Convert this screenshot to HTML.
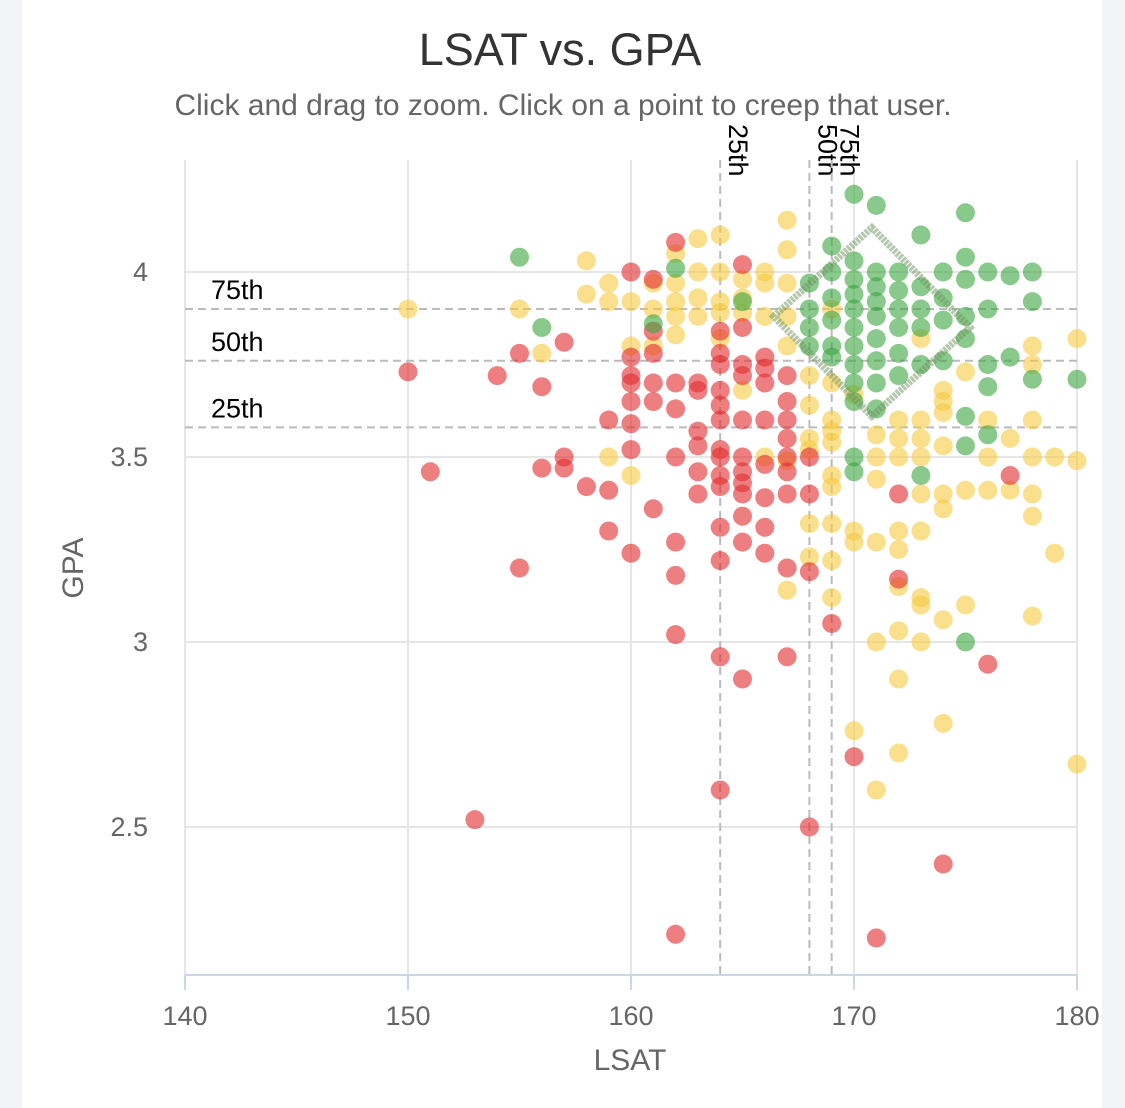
<!DOCTYPE html>
<html><head><meta charset="utf-8"><style>
html,body{margin:0;padding:0;background:#f2f3f7;}
#card{position:absolute;left:22px;top:0;width:1080px;height:1108px;background:#fff;}
svg{position:absolute;left:0;top:0;font-family:"Liberation Sans",sans-serif;}
</style></head><body>
<div id="card"></div>
<svg id="chart" width="1125" height="1108"></svg>
<script>
const xTicks=[140,150,160,170,180];
const yTicks=[2.5,3,3.5,4];
const pctLsat=[164,168,169];
const pctLsatLabels=["25th","50th","75th"];
const pctGpa=[3.58,3.76,3.9];
const pctGpaLabels=["25th","50th","75th"];
const redPts=[[150,3.73],[151,3.46],[153,2.52],[154,3.72],[155,3.78],[155,3.2],[156,3.47],[156,3.69],[157,3.81],[157,3.5],[157,3.47],[158,3.42],[159,3.41],[159,3.6],[159,3.3],[160,4.0],[160,3.77],[160,3.72],[160,3.7],[160,3.65],[160,3.59],[160,3.52],[160,3.24],[161,3.98],[161,3.84],[161,3.78],[161,3.7],[161,3.65],[161,3.36],[162,4.08],[162,3.7],[162,3.63],[162,3.5],[162,3.27],[162,3.18],[162,3.02],[162,2.21],[163,3.68],[163,3.57],[163,3.53],[163,3.46],[163,3.4],[164,3.84],[164,3.78],[164,3.75],[164,3.68],[164,3.64],[164,3.6],[164,3.52],[164,3.5],[164,3.45],[164,3.42],[164,3.31],[164,3.22],[164,2.96],[164,2.6],[165,4.02],[165,3.85],[165,3.75],[165,3.72],[165,3.6],[165,3.5],[165,3.46],[165,3.43],[165,3.4],[165,3.34],[165,3.27],[165,2.9],[166,3.77],[166,3.7],[166,3.6],[166,3.48],[166,3.39],[166,3.31],[166,3.24],[167,3.72],[167,3.65],[167,3.6],[167,3.55],[167,3.5],[167,3.46],[167,3.4],[167,3.2],[167,2.96],[168,3.5],[168,3.4],[168,3.19],[168,2.5],[169,3.05],[170,2.69],[171,2.2],[172,3.4],[172,3.17],[174,2.4],[176,2.94],[177,3.45],[163,3.7],[166,3.74]];
const yellowPts=[[150,3.9],[155,3.9],[156,3.78],[158,4.03],[158,3.94],[159,3.97],[159,3.92],[159,3.5],[160,3.92],[160,3.8],[160,3.45],[161,3.97],[161,3.9],[161,3.8],[162,4.05],[162,3.97],[162,3.92],[162,3.88],[162,3.83],[163,4.09],[163,4.0],[163,3.93],[163,3.88],[164,4.1],[164,4.0],[164,3.92],[164,3.89],[164,3.82],[165,3.98],[165,3.93],[165,3.89],[166,4.0],[166,3.97],[166,3.88],[167,4.14],[167,4.06],[167,3.97],[167,3.88],[167,3.8],[167,3.49],[167,3.14],[168,3.72],[168,3.64],[168,3.55],[168,3.52],[168,3.32],[168,3.23],[169,3.9],[169,3.7],[169,3.6],[169,3.57],[169,3.54],[169,3.45],[169,3.42],[169,3.32],[169,3.22],[169,3.12],[170,3.67],[170,3.3],[170,3.27],[170,2.76],[171,3.56],[171,3.5],[171,3.44],[171,3.27],[171,3.0],[171,2.6],[172,3.6],[172,3.55],[172,3.5],[172,3.3],[172,3.25],[172,3.15],[172,3.03],[172,2.9],[172,2.7],[173,3.6],[173,3.55],[173,3.5],[173,3.4],[173,3.3],[173,3.12],[173,3.1],[173,3.0],[173,3.82],[174,3.68],[174,3.65],[174,3.62],[174,3.53],[174,3.4],[174,3.36],[174,3.06],[174,2.78],[175,3.73],[175,3.41],[175,3.1],[176,3.6],[176,3.5],[176,3.41],[177,3.55],[177,3.41],[178,3.8],[178,3.75],[178,3.6],[178,3.5],[178,3.4],[178,3.34],[178,3.07],[179,3.5],[179,3.24],[180,3.82],[180,3.49],[180,2.67],[166,3.5],[165,3.68]];
const greenPts=[[155,4.04],[156,3.85],[161,3.86],[162,4.01],[165,3.92],[168,3.97],[168,3.9],[168,3.85],[168,3.8],[169,4.07],[169,4.0],[169,3.93],[169,3.87],[169,3.8],[169,3.77],[170,4.21],[170,4.03],[170,3.98],[170,3.94],[170,3.9],[170,3.85],[170,3.8],[170,3.75],[170,3.7],[170,3.65],[170,3.5],[170,3.46],[171,4.18],[171,4.0],[171,3.96],[171,3.92],[171,3.88],[171,3.82],[171,3.76],[171,3.7],[171,3.63],[172,4.0],[172,3.95],[172,3.9],[172,3.85],[172,3.78],[172,3.72],[173,4.1],[173,3.96],[173,3.9],[173,3.85],[173,3.75],[173,3.45],[174,4.0],[174,3.93],[174,3.87],[174,3.76],[175,4.16],[175,4.04],[175,3.98],[175,3.88],[175,3.82],[175,3.61],[175,3.53],[175,3.0],[176,4.0],[176,3.9],[176,3.75],[176,3.69],[176,3.56],[177,3.99],[177,3.77],[178,4.0],[178,3.92],[178,3.71],[180,3.71]];
const diamond=[[166.4,3.88],[170.8,4.12],[175.2,3.85],[170.8,3.61]];

const X=v=>185+(v-140)*22.3;
const Y=v=>272-(v-4)*370;
const svg=document.getElementById('chart');
const NS='http://www.w3.org/2000/svg';
function mk(t,a,p){const e=document.createElementNS(NS,t);for(const k in a)e.setAttribute(k,a[k]);(p||svg).appendChild(e);return e;}

let t=mk('text',{x:560,y:65,'text-anchor':'middle','font-size':45,fill:'#333'});t.textContent='LSAT vs. GPA';


t=mk('text',{x:563,y:115,'text-anchor':'middle','font-size':30,fill:'#666'});t.textContent='Click and drag to zoom. Click on a point to creep that user.';



xTicks.forEach(v=>{
 const g=mk('line',{x1:X(v),x2:X(v),y1:160,y2:975,stroke:'#e6e6e6','stroke-width':2});
 
 
 mk('line',{x1:X(v),x2:X(v),y1:975,y2:990,stroke:'#ccd6eb','stroke-width':2});
 const l=mk('text',{x:X(v),y:1025,'text-anchor':'middle','font-size':27,fill:'#666'});l.textContent=v;
 
 
});
yTicks.forEach(v=>{
 const g=mk('line',{x1:185,x2:1077,y1:Y(v),y2:Y(v),stroke:'#e6e6e6','stroke-width':2});
 
 
 const l=mk('text',{x:148,y:Y(v)+9,'text-anchor':'end','font-size':27,fill:'#666'});l.textContent=v;
 
 
});
let ax=mk('line',{x1:185,x2:1077,y1:975,y2:975,stroke:'#ccd6eb','stroke-width':2});


t=mk('text',{x:630,y:1070,'text-anchor':'middle','font-size':30,fill:'#666'});t.textContent='LSAT';


t=mk('text',{x:0,y:0,'text-anchor':'middle','font-size':30,fill:'#666',transform:'translate(83,568) rotate(-90)'});t.textContent='GPA';



pctLsat.forEach((v,i)=>{
 const l=mk('line',{x1:X(v),x2:X(v),y1:160,y2:975,stroke:'#bbb','stroke-width':2,'stroke-dasharray':'8,5'});
 
 
 const tx=mk('text',{x:0,y:0,'font-size':27,fill:'#000',transform:`translate(${X(v)+9},124) rotate(90)`});tx.textContent=pctLsatLabels[i];
 
 
});
pctGpa.forEach((v,i)=>{
 const l=mk('line',{x1:185,x2:1077,y1:Y(v),y2:Y(v),stroke:'#bbb','stroke-width':2,'stroke-dasharray':'8,5'});
 
 
 const tx=mk('text',{x:211,y:Y(v)-10,'font-size':27,fill:'#000'});tx.textContent=pctGpaLabels[i];
 
 
});

function pts(arr,col,name){
 arr.forEach(p=>{
  const c=mk('circle',{cx:X(p[0]),cy:Y(p[1]),r:9.5,fill:col,'fill-opacity':0.6});
  
  
 });
}
pts(yellowPts,'#f7c940','yellow-point');
pts(redPts,'#e3292d','red-point');
pts(greenPts,'#3aa53f','green-point');

const dp=mk('polygon',{points:diamond.map(p=>X(p[0])+','+Y(p[1])).join(' '),fill:'none',stroke:'#6b8f5a','stroke-width':7,'stroke-opacity':0.5,'stroke-dasharray':'3,1'});


</script>
</body></html>
